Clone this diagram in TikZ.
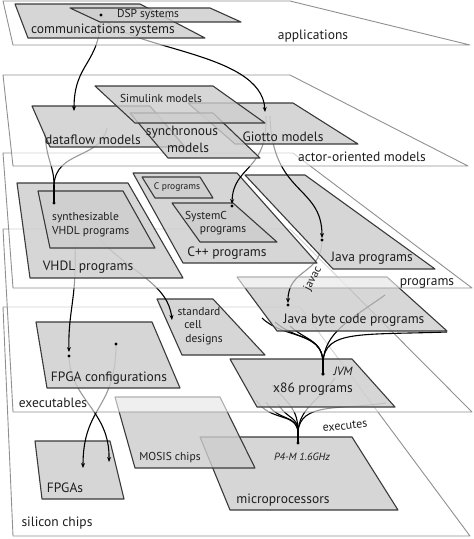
\documentclass[tikz,border=0pt]{standalone}
\usepackage{fontspec}
\setmainfont{PT Sans}
\usetikzlibrary{arrows.meta}
\definecolor{boxfill}{HTML}{CDCDCD}
\definecolor{boxedge}{HTML}{3A3A3A}
\definecolor{planeedge}{HTML}{909090}
\definecolor{txt}{HTML}{1E1E1E}
\tikzset{
  plane/.style={draw=planeedge, line width=0.9pt, fill=white, fill opacity=0.6, line join=round},
  box/.style={draw=boxedge, line width=1.1pt, fill=boxfill, fill opacity=0.8, line join=round},
  conn/.style={draw=black, line width=1.1pt},
  arr/.style={conn, -{Stealth[length=5pt,width=4pt]}},
  dotc/.style={circle, fill=black, inner sep=0pt, minimum size=3.4pt},
  lab/.style={font=\fontsize{13.5}{15}\selectfont, text=txt, inner sep=0pt},
  labs/.style={font=\fontsize{11.5}{13}\selectfont, text=txt, inner sep=0pt},
  labxs/.style={font=\fontsize{9.5}{11}\selectfont, text=txt, inner sep=0pt},
}
\begin{document}
\begin{tikzpicture}[x=1pt,y=-1pt]
\useasboundingbox (0,0) rectangle (474,539);

% ===== silicon chips layer =====
\draw[plane] (3,307) -- (300,307) -- (470,536) -- (13,536) -- cycle;
\draw[box] (200,437) -- (352,437) -- (398,510) -- (230,510) -- cycle;
\draw[box] (115,397) -- (220,397) -- (255,468) -- (135,468) -- cycle;
\draw[box] (35,441) -- (110,441) -- (124,499) -- (42,499) -- cycle;
\node[labs] (mosis) at (170,458) {MOSIS chips};
\node[labxs, font=\fontsize{10.5}{12}\selectfont\itshape] (p4) at (302,457) {P4-M 1.6GHz};
\node[lab] (fpgas) at (65,488) {FPGAs};
\node[lab] (micro) at (283,500) {microprocessors};
\node[lab] (silicon) at (57,523) {silicon chips};
\coordinate (fpgaA) at (83,468);
\coordinate (fpgaB) at (109,462);
\node[dotc] (p4dot) at (298,443) {};
\coordinate (p4merge) at (298,432);

% connectors executables -> silicon
\coordinate (fcA) at (69,356);
\coordinate (fcB) at (116,344);
\draw[arr] (fcB) .. controls (116,410) and (83,405) .. (fpgaA);
\draw[arr] (fcA) .. controls (70,400) and (110,410) .. (fpgaB);
\coordinate (xa) at (256,400);
\coordinate (xb) at (266,402);
\coordinate (xc) at (278,404);
\coordinate (xd) at (386,403);
\coordinate (xe) at (272,385);
\coordinate (xf) at (335,378);
\draw[conn] (xa) .. controls (270,422) and (296,412) .. (p4merge);
\draw[conn] (xb) .. controls (278,422) and (297,414) .. (p4merge);
\draw[conn] (xc) .. controls (288,420) and (298,416) .. (p4merge);
\draw[conn] (xd) .. controls (340,410) and (300,402) .. (p4merge);
\draw[conn] (xe) .. controls (290,405) and (298,410) .. (p4merge);
\draw[conn] (xf) .. controls (320,400) and (299,408) .. (p4merge);
\draw[conn] (p4merge) -- (p4dot.center);

% ===== executables layer =====
\draw[plane] (3,229) -- (290,229) -- (472,412) -- (13,412) -- cycle;
\node[labs, font=\fontsize{12}{13}\selectfont, rotate=6] (executes) at (345,426) {executes};
\draw[box] (36,322) -- (152,322) -- (180,388) -- (47,388) -- cycle;
\draw[box] (157,299) -- (213,299) -- (265,355) -- (182,355) -- cycle;
\draw[box] (230,359) -- (352,359) -- (395,407) -- (257,407) -- cycle;
\node[dotc] (jvmdot) at (323,374) {};
\coordinate (jvmmerge) at (323,362);
\coordinate (ja) at (262,318);
\coordinate (jb) at (275,322);
\coordinate (jc) at (290,326);
\coordinate (jd) at (447,332);
\coordinate (je) at (385,295);
\draw[conn] (ja) .. controls (285,340) and (322,330) .. (jvmmerge);
\draw[conn] (jb) .. controls (295,340) and (322,335) .. (jvmmerge);
\draw[conn] (jc) .. controls (305,340) and (322,340) .. (jvmmerge);
\draw[conn] (jd) .. controls (360,335) and (325,330) .. (jvmmerge);
\draw[conn] (je) .. controls (350,320) and (325,332) .. (jvmmerge);
\draw[box] (237,277) -- (387,277) -- (447,331) -- (277,331) -- cycle;
\draw[conn] (jvmmerge) -- (jvmdot.center);
\node[dotc] at (jvmdot) {};
\node[dotc] (fcAdot) at (fcA) {};
\node[dotc] (fcBdot) at (fcB) {};
\node[labs] (std1) at (199,312) {standard};
\node[labs] (std2) at (193,325) {cell};
\node[labs] (std3) at (204,340) {designs};
\node[lab] (jbc) at (354,320) {Java byte code programs};
\node[lab] (fpgacfg) at (109,378) {FPGA configurations};
\node[labs, font=\fontsize{12}{13}\selectfont\itshape] (jvm) at (343,371) {JVM};
\node[lab] (x86) at (313,389) {x86 programs};
\node[lab] (exe) at (53,403) {executables};
\coordinate (stdArrow) at (172,320);
\coordinate (fcArrow) at (69,352);
\node[dotc] (jbcdot) at (288,305) {};

% connectors programs -> executables
\coordinate (sy1) at (75,243);
\coordinate (vh1) at (100,240);
\node[dotc] (javadot) at (322,240) {};
\draw[arr] (sy1) .. controls (77,300) and (68,310) .. (fcArrow);
\draw[arr] (vh1) .. controls (135,275) and (168,285) .. (stdArrow);
\draw[arr] (javadot.center) .. controls (322,275) and (288,268) .. (jbcdot.north);

% ===== programs layer =====
\draw[plane] (3,153) -- (293,153) -- (472,288) -- (13,288) -- cycle;
\node[labs, rotate=62] (javac) at (313,279) {javac};
\draw[box] (17,183) -- (128,183) -- (183,278) -- (30,278) -- cycle;
\draw[box] (38,191) -- (123,191) -- (155,248) -- (50,248) -- cycle;
\draw[box] (133,173) -- (237,173) -- (317,263) -- (183,263) -- cycle;
\draw[box] (142,177) -- (200,177) -- (213,198) -- (155,198) -- cycle;
\draw[box] (172,203) -- (233,203) -- (277,242) -- (200,242) -- cycle;
\draw[box] (245,175) -- (305,175) -- (435,269) -- (333,269) -- cycle;
\node[dotc] at (javadot) {};
\node[dotc] (syndot) at (54,203) {};
\node[dotc] (sysdot) at (232,206) {};
\node[labxs] (cprog) at (177,187) {C programs};
\node[labs, anchor=west] (syn1) at (52,218) {synthesizable};
\node[labs, anchor=west] (syn2) at (52,232) {VHDL programs};
\node[labs] (sc1) at (206,217) {SystemC};
\node[labs] (sc2) at (223,231) {programs};
\node[lab] (cpp) at (227,253) {C++ programs};
\node[lab] (vhdl) at (88,267) {VHDL programs};
\node[lab] (java) at (372,258) {Java programs};
\node[lab] (progs) at (427,283) {programs};

% connectors actor -> programs
\coordinate (df1) at (45,132);
\coordinate (df2) at (107,128);
\coordinate (synmerge) at (54,185);
\coordinate (gi1) at (266,116);
\coordinate (gi2) at (270,116);
\coordinate (sysArrow) at (232,204);
\coordinate (javaArrow) at (322,238);
\draw[conn] (df1) .. controls (46,160) and (54,165) .. (synmerge);
\draw[conn] (df2) .. controls (100,160) and (56,150) .. (synmerge);
\draw[conn] (synmerge) -- (syndot.center);
\draw[arr] (gi1) .. controls (268,172) and (233,165) .. (sysArrow);
\draw[arr] (gi2) .. controls (272,195) and (322,185) .. (javaArrow);

% ===== actor-oriented models layer =====
\draw[plane] (3,75) -- (290,75) -- (468,166) -- (13,166) -- cycle;
\draw[box] (32,106) -- (150,106) -- (185,147) -- (50,147) -- cycle;
\draw[box] (188,103) -- (293,103) -- (358,144) -- (235,144) -- cycle;
\draw[box] (130,113) -- (213,113) -- (260,158) -- (168,158) -- cycle;
\draw[box] (95,86) -- (213,86) -- (265,123) -- (135,123) -- cycle;
\node[labs] (simulink) at (161,98) {Simulink models};
\node[lab] (dataflow) at (93,140) {dataflow models};
\node[lab] (sync1) at (182,132) {synchronous};
\node[lab] (sync2) at (188,148) {models};
\node[lab] (giotto) at (283,137) {Giotto models};
\node[lab] (actor) at (362,157) {actor-oriented models};
\coordinate (dfArrow) at (74,111);
\coordinate (giArrow) at (265,112);

% connectors applications -> actor
\node[dotc] (dspdot) at (101,15) {};
\draw[arr] (dspdot.center) .. controls (100,65) and (74,62) .. (dfArrow);
\draw[arr] (dspdot.center) .. controls (120,50) and (262,50) .. (giArrow);

% ===== applications layer =====
\draw[plane] (3,1) -- (290,1) -- (470,45) -- (13,45) -- cycle;
\draw[box] (15,4) -- (140,4) -- (205,38) -- (28,38) -- cycle;
\draw[box] (70,8) -- (210,8) -- (241,22) -- (100,22) -- cycle;
\node[dotc] at (dspdot) {};
\node[labs] (dsp) at (148,15) {DSP systems};
\node[lab] (comm) at (103,30) {communications systems};
\node[lab] (apps) at (313,36) {applications};
\end{tikzpicture}
\end{document}
